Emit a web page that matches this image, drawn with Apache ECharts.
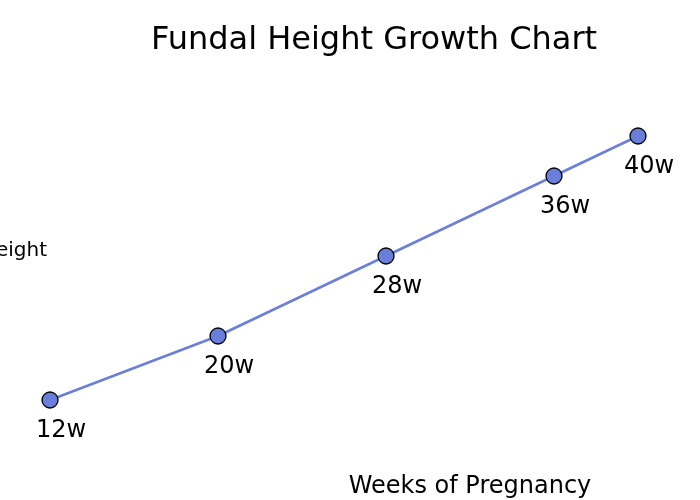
<!DOCTYPE html>
<html>
<head>
<meta charset="utf-8">
<script src="https://cdn.jsdelivr.net/npm/echarts@6/dist/echarts.min.js"></script>
<style>
  html, body { margin: 0; padding: 0; background: #fff; }
  #chart-container { width: 700px; height: 500px; }
</style>
</head>
<body>
<div id="chart-container"></div>
<script>
var weeks = [12, 20, 28, 36, 40];
var heights = [13.6, 20, 28, 36, 40];
var pointLabels = ['12w', '20w', '28w', '36w', '40w'];

var dom = document.getElementById('chart-container');
var myChart = echarts.init(dom, null, { renderer: 'canvas' });

var font = 'DejaVu Sans';
var points = weeks.map(function (w, i) {
  return { value: [w, heights[i]], label: { formatter: pointLabels[i] } };
});

var option = {
  animation: false,
  title: {
    text: 'Fundal Height Growth Chart',
    left: 146,
    top: 20,
    textStyle: { fontFamily: font, fontSize: 32, fontWeight: 'normal', color: '#000' }
  },
  // y axis title sits left of the plot and runs off the page edge
  graphic: [
    {
      type: 'text',
      x: 47,
      y: 251,
      style: {
        text: 'Fundal Height',
        fontFamily: font,
        fontSize: 20,
        fill: '#000',
        align: 'right',
        verticalAlign: 'middle'
      }
    }
  ],
  grid: { left: 50, right: 62, top: 66, bottom: 64, outerBoundsMode: 'none', containLabel: false },
  xAxis: {
    type: 'value',
    min: 12,
    max: 40,
    name: 'Weeks of Pregnancy',
    nameLocation: 'middle',
    nameGap: 39,
    nameTextStyle: { fontFamily: font, fontSize: 24, color: '#000', padding: [0, 0, 0, 252] },
    axisLine: { show: false },
    axisTick: { show: false },
    axisLabel: { show: false },
    splitLine: { show: false }
  },
  yAxis: {
    type: 'value',
    min: 10,
    max: 47,
    axisLine: { show: false },
    axisTick: { show: false },
    axisLabel: { show: false },
    splitLine: { show: false }
  },
  series: [
    {
      type: 'line',
      data: points,
      symbol: 'circle',
      symbolSize: 16,
      lineStyle: { color: '#6a7fdc', width: 2.5 },
      itemStyle: { color: '#6a7fdc', borderColor: '#000', borderWidth: 1.3 },
      label: {
        show: true,
        position: 'bottom',
        distance: 10,
        offset: [11, 0],
        fontFamily: font,
        fontSize: 24,
        color: '#000'
      }
    }
  ]
};

myChart.setOption(option);
window.addEventListener('resize', myChart.resize);
</script>
</body>
</html>
